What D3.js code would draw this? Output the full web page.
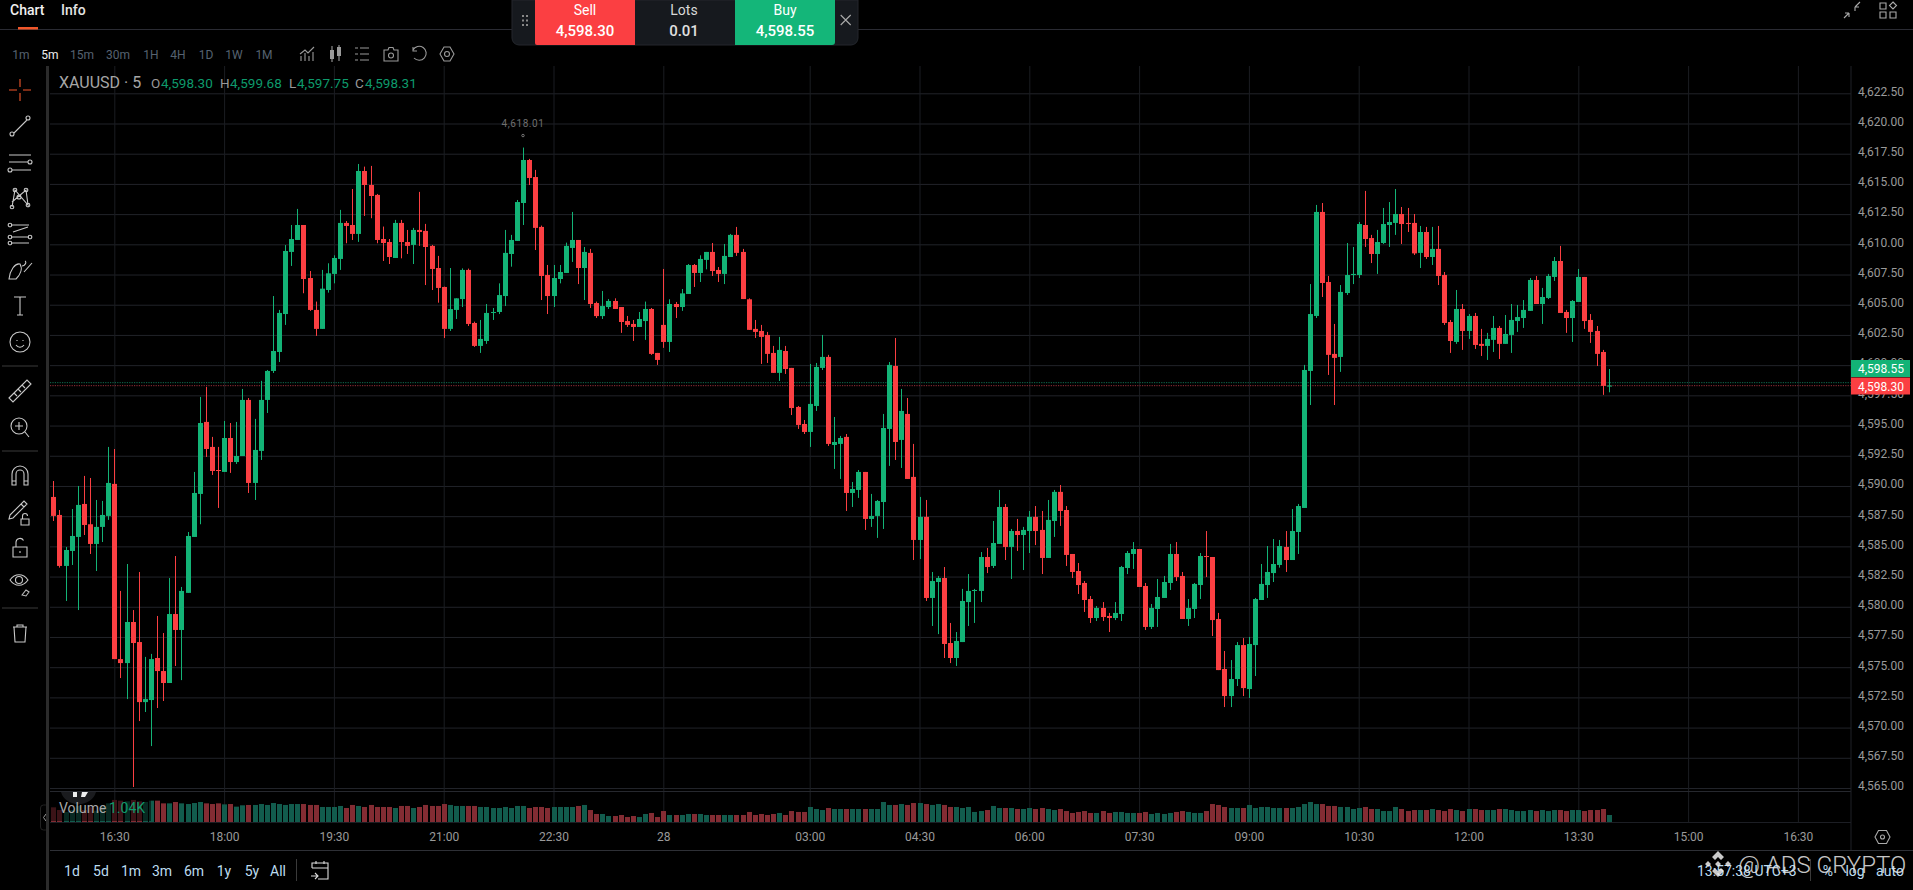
<!DOCTYPE html>
<html>
<head>
<meta charset="utf-8">
<title>XAUUSD 5m</title>
<script src="https://cdn.jsdelivr.net/npm/d3@7"></script>
<style>
    html, body { margin: 0; padding: 0; background: #000; overflow: hidden; }
    text { font-family: Roboto, "Liberation Sans", sans-serif; }
</style>
</head>
<body>
<div id="chart"></div>
<script>
// candles, oldest first (10 per line)
const opens = [
    4589.09, 4587.60, 4583.38, 4584.62, 4585.78, 4588.51, 4586.83, 4585.20, 4586.61, 4587.52,
    4590.17, 4575.67, 4575.34, 4578.74, 4577.08, 4572.11, 4572.28, 4575.76, 4574.68, 4573.69,
    4579.40, 4578.08, 4581.15, 4585.78, 4589.34, 4595.30, 4593.23, 4591.32, 4591.16, 4593.97,
    4591.98, 4592.48, 4597.12, 4590.25, 4592.90, 4597.12, 4599.52, 4601.09, 4604.23, 4609.37,
    4610.36, 4611.60, 4607.21, 4604.57, 4603.00, 4606.22, 4607.55, 4608.79, 4611.77, 4611.60,
    4610.86, 4616.07, 4614.91, 4614.09, 4610.44, 4610.19, 4608.87, 4611.77, 4610.19, 4609.95,
    4611.19, 4611.11, 4609.87, 4608.04, 4606.47, 4603.00, 4604.57, 4605.47, 4607.88, 4603.49,
    4601.59, 4602.00, 4604.32, 4604.40, 4605.72, 4609.20, 4610.28, 4613.42, 4616.98, 4615.57,
    4611.44, 4607.46, 4605.72, 4607.13, 4607.63, 4609.70, 4610.36, 4608.04, 4609.29, 4605.14,
    4604.06, 4604.81, 4605.31, 4604.81, 4603.65, 4603.41, 4603.16, 4603.65, 4604.65, 4601.01,
    4603.33, 4601.92, 4605.06, 4604.81, 4605.89, 4608.29, 4607.63, 4608.71, 4609.37, 4607.88,
    4607.55, 4608.95, 4610.78, 4609.37, 4605.45, 4603.00, 4602.83, 4602.50, 4601.01, 4599.36,
    4601.17, 4599.77, 4596.54, 4595.13, 4594.47, 4596.62, 4599.77, 4600.68, 4593.39, 4593.48,
    4594.06, 4589.42, 4589.67, 4591.16, 4587.27, 4587.52, 4588.67, 4594.72, 4599.93, 4593.81,
    4595.96, 4590.75, 4585.53, 4587.44, 4580.73, 4582.05, 4582.38, 4577.00, 4575.76, 4577.08,
    4580.39, 4581.31, 4581.31, 4584.12, 4583.38, 4585.20, 4588.26, 4584.95, 4586.27, 4585.94,
    4586.27, 4587.44, 4586.36, 4584.04, 4587.10, 4589.51, 4588.01, 4584.37, 4582.96, 4581.97,
    4580.64, 4579.07, 4579.90, 4579.24, 4579.07, 4579.40, 4583.21, 4584.37, 4584.78, 4581.72,
    4578.33, 4579.82, 4580.73, 4581.97, 4584.37, 4582.55, 4578.99, 4579.82, 4581.80, 4584.20,
    4584.12, 4578.99, 4574.85, 4572.61, 4574.02, 4576.83, 4573.19, 4576.83, 4580.56, 4581.80,
    4582.79, 4583.46, 4584.95, 4583.87, 4586.19, 4588.18, 4599.52, 4604.07, 4612.68, 4606.88,
    4600.93, 4600.68, 4605.97, 4607.46, 4607.46, 4611.60, 4610.52, 4609.20, 4610.11, 4611.60,
    4611.77, 4612.51, 4611.77, 4611.77, 4609.29, 4611.02, 4608.95, 4609.62, 4607.46, 4603.57,
    4601.92, 4604.65, 4602.83, 4604.07, 4601.76, 4601.59, 4602.09, 4603.08, 4601.76, 4602.50,
    4603.65, 4603.90, 4604.49, 4607.05, 4605.06, 4605.56, 4607.30, 4608.62, 4604.40, 4603.90,
    4605.23, 4607.30, 4603.74, 4602.83, 4601.09, 4598.30
];
const highs = [
    4590.41, 4588.01, 4584.95, 4588.09, 4590.00, 4590.83, 4590.66, 4588.84, 4588.76, 4593.23,
    4593.06, 4581.31, 4583.54, 4579.73, 4582.88, 4575.85, 4576.10, 4579.24, 4577.83, 4582.38,
    4584.20, 4581.64, 4586.19, 4591.16, 4597.37, 4598.20, 4594.06, 4593.23, 4595.38, 4595.21,
    4595.30, 4598.03, 4597.28, 4595.55, 4598.70, 4599.60, 4605.72, 4604.57, 4609.94, 4611.60,
    4612.93, 4611.60, 4607.79, 4605.26, 4607.88, 4608.43, 4609.09, 4612.85, 4611.93, 4614.58,
    4616.65, 4616.43, 4616.49, 4614.17, 4611.47, 4610.44, 4612.02, 4612.02, 4611.19, 4611.36,
    4614.34, 4611.69, 4609.95, 4609.04, 4606.50, 4608.04, 4605.53, 4608.01, 4607.99, 4603.60,
    4603.74, 4605.06, 4604.73, 4606.77, 4611.19, 4610.78, 4613.67, 4618.01, 4617.07, 4616.16,
    4611.55, 4608.29, 4608.29, 4608.29, 4610.14, 4612.68, 4610.36, 4609.78, 4609.62, 4605.26,
    4606.14, 4605.47, 4605.53, 4604.81, 4604.07, 4603.74, 4604.40, 4605.26, 4604.73, 4601.01,
    4607.96, 4605.45, 4605.23, 4606.30, 4608.37, 4608.37, 4609.09, 4609.37, 4610.11, 4608.12,
    4610.03, 4610.86, 4611.44, 4609.62, 4605.53, 4603.74, 4603.33, 4602.75, 4601.59, 4602.34,
    4601.59, 4599.77, 4596.62, 4595.46, 4600.10, 4600.18, 4602.50, 4600.85, 4595.71, 4594.14,
    4594.30, 4590.33, 4591.32, 4591.16, 4589.34, 4588.84, 4595.96, 4600.26, 4602.25, 4598.03,
    4597.28, 4593.48, 4589.09, 4588.84, 4582.88, 4582.55, 4583.29, 4578.66, 4577.91, 4581.48,
    4582.71, 4581.48, 4584.53, 4584.87, 4587.10, 4589.67, 4588.51, 4586.44, 4587.27, 4586.61,
    4587.93, 4588.34, 4587.93, 4588.84, 4589.67, 4590.08, 4588.34, 4584.37, 4583.62, 4582.13,
    4580.89, 4580.06, 4580.39, 4579.49, 4580.39, 4583.38, 4584.62, 4585.36, 4584.78, 4581.97,
    4580.23, 4582.30, 4582.55, 4585.20, 4585.36, 4582.88, 4580.64, 4581.97, 4584.45, 4586.27,
    4584.12, 4579.49, 4576.34, 4575.59, 4577.08, 4577.41, 4577.50, 4580.73, 4583.54, 4585.03,
    4585.61, 4585.53, 4586.27, 4588.09, 4588.51, 4600.02, 4606.71, 4613.26, 4613.42, 4607.38,
    4603.41, 4606.63, 4610.11, 4609.78, 4611.85, 4614.42, 4610.78, 4611.19, 4613.01, 4613.50,
    4614.58, 4613.09, 4613.01, 4612.51, 4611.52, 4611.44, 4611.44, 4611.52, 4607.71, 4603.74,
    4606.22, 4605.06, 4604.23, 4604.32, 4603.00, 4602.67, 4604.07, 4603.24, 4604.15, 4605.06,
    4604.98, 4605.39, 4607.21, 4607.38, 4606.39, 4607.55, 4608.95, 4609.87, 4604.57, 4605.39,
    4607.96, 4607.30, 4604.23, 4603.24, 4601.26, 4599.68
];
const lows = [
    4587.10, 4583.24, 4580.48, 4583.46, 4579.73, 4585.94, 4584.37, 4582.96, 4585.36, 4587.19,
    4575.67, 4574.10, 4572.36, 4565.08, 4570.54, 4571.29, 4568.47, 4571.62, 4572.20, 4573.69,
    4575.10, 4573.93, 4581.15, 4585.78, 4586.83, 4592.40, 4590.91, 4588.18, 4591.16, 4591.08,
    4591.82, 4592.48, 4589.42, 4588.84, 4592.15, 4596.04, 4599.35, 4600.26, 4603.33, 4608.21,
    4610.36, 4605.95, 4604.49, 4602.42, 4603.00, 4606.00, 4606.77, 4607.88, 4610.09, 4610.36,
    4610.20, 4612.35, 4612.16, 4610.09, 4608.62, 4608.37, 4608.87, 4608.84, 4609.20, 4608.37,
    4609.87, 4606.63, 4606.22, 4605.17, 4602.25, 4602.83, 4603.82, 4604.81, 4603.24, 4601.51,
    4601.01, 4601.76, 4603.74, 4604.23, 4604.89, 4608.15, 4610.28, 4611.60, 4614.91, 4609.53,
    4605.39, 4604.23, 4604.81, 4606.77, 4607.63, 4608.54, 4606.71, 4605.39, 4604.73, 4603.90,
    4603.82, 4604.65, 4604.65, 4602.67, 4603.16, 4602.00, 4603.16, 4602.09, 4600.85, 4600.02,
    4601.43, 4601.09, 4603.90, 4604.49, 4605.89, 4606.47, 4606.88, 4607.93, 4607.38, 4606.88,
    4606.71, 4608.95, 4609.04, 4605.47, 4602.92, 4602.25, 4600.10, 4600.18, 4599.36, 4598.69,
    4599.27, 4595.87, 4594.72, 4594.30, 4593.23, 4596.21, 4599.60, 4593.31, 4591.41, 4590.58,
    4587.93, 4588.26, 4589.01, 4586.36, 4586.61, 4585.70, 4586.44, 4591.66, 4592.15, 4591.49,
    4590.58, 4583.87, 4583.95, 4580.48, 4578.41, 4577.74, 4575.76, 4575.34, 4575.10, 4577.08,
    4578.41, 4578.66, 4580.39, 4582.79, 4583.21, 4585.20, 4583.87, 4582.30, 4584.62, 4583.04,
    4584.45, 4585.11, 4582.71, 4584.04, 4585.78, 4586.69, 4583.38, 4582.38, 4581.06, 4579.57,
    4578.66, 4578.82, 4578.82, 4577.91, 4578.90, 4578.82, 4582.71, 4583.13, 4581.64, 4578.08,
    4578.16, 4578.33, 4580.73, 4581.39, 4582.13, 4578.99, 4578.41, 4579.07, 4580.64, 4582.46,
    4577.58, 4574.76, 4571.70, 4571.70, 4573.44, 4572.61, 4572.45, 4574.27, 4580.56, 4580.73,
    4582.05, 4583.24, 4582.88, 4583.87, 4584.37, 4588.18, 4596.70, 4603.90, 4605.64, 4599.19,
    4596.70, 4599.44, 4605.81, 4606.71, 4607.21, 4609.78, 4608.45, 4607.55, 4610.03, 4609.78,
    4610.78, 4610.03, 4611.02, 4609.12, 4608.04, 4608.79, 4608.29, 4606.63, 4603.33, 4601.01,
    4601.76, 4601.26, 4602.17, 4601.34, 4600.76, 4600.43, 4601.09, 4600.51, 4601.76, 4601.01,
    4602.75, 4603.08, 4604.49, 4605.06, 4603.41, 4605.47, 4606.97, 4604.32, 4602.67, 4601.92,
    4605.23, 4603.00, 4601.84, 4599.93, 4597.54, 4597.75
];
const closes = [
    4587.52, 4583.38, 4584.70, 4585.86, 4588.43, 4586.77, 4585.20, 4586.61, 4587.60, 4590.25,
    4575.67, 4575.34, 4578.74, 4577.00, 4572.11, 4572.36, 4575.67, 4574.68, 4573.69, 4579.40,
    4578.08, 4581.31, 4585.86, 4589.42, 4595.21, 4593.06, 4591.24, 4591.24, 4593.97, 4591.98,
    4592.48, 4597.12, 4590.25, 4592.98, 4597.12, 4599.52, 4601.17, 4604.32, 4609.45, 4610.44,
    4611.60, 4607.13, 4604.57, 4603.00, 4606.33, 4607.60, 4608.87, 4611.77, 4611.52, 4610.86,
    4616.07, 4614.91, 4614.00, 4610.36, 4610.11, 4608.95, 4611.77, 4610.19, 4609.87, 4611.19,
    4611.02, 4609.78, 4607.96, 4606.39, 4603.00, 4604.64, 4605.53, 4607.88, 4603.41, 4601.59,
    4602.17, 4604.32, 4604.40, 4605.80, 4609.29, 4610.36, 4613.50, 4616.98, 4615.49, 4611.36,
    4607.38, 4605.72, 4607.21, 4607.71, 4609.87, 4610.36, 4608.04, 4609.37, 4605.06, 4604.06,
    4604.89, 4605.31, 4604.65, 4603.57, 4603.33, 4603.16, 4603.82, 4604.65, 4600.93, 4600.43,
    4601.92, 4605.06, 4604.81, 4605.94, 4608.29, 4607.63, 4608.79, 4609.37, 4607.79, 4607.55,
    4609.04, 4610.78, 4609.29, 4605.47, 4602.92, 4602.75, 4602.34, 4600.93, 4599.36, 4601.26,
    4599.68, 4596.45, 4595.05, 4594.47, 4596.79, 4599.85, 4600.68, 4593.48, 4593.64, 4593.97,
    4589.42, 4589.75, 4591.16, 4587.27, 4587.52, 4588.76, 4594.80, 4600.02, 4593.64, 4596.21,
    4590.58, 4585.53, 4587.44, 4580.73, 4582.13, 4582.38, 4576.92, 4575.76, 4577.17, 4580.48,
    4581.31, 4581.39, 4584.12, 4583.29, 4585.28, 4588.26, 4584.95, 4586.27, 4585.94, 4586.36,
    4587.44, 4586.27, 4584.04, 4587.19, 4589.51, 4587.93, 4584.29, 4582.88, 4581.80, 4580.56,
    4579.07, 4579.90, 4579.15, 4579.07, 4579.49, 4583.29, 4584.45, 4584.78, 4581.64, 4578.33,
    4579.90, 4580.81, 4582.05, 4584.37, 4582.46, 4578.99, 4579.90, 4581.89, 4584.20, 4584.12,
    4578.90, 4574.76, 4572.61, 4574.02, 4576.83, 4573.27, 4576.92, 4580.64, 4581.89, 4582.88,
    4583.54, 4585.03, 4583.87, 4586.27, 4588.34, 4599.60, 4604.23, 4612.68, 4606.80, 4600.85,
    4600.60, 4606.06, 4607.46, 4607.55, 4611.68, 4610.44, 4609.20, 4610.19, 4611.68, 4611.85,
    4612.51, 4611.68, 4611.68, 4609.25, 4611.02, 4608.95, 4609.62, 4607.38, 4603.49, 4602.00,
    4604.65, 4602.83, 4604.07, 4601.67, 4601.59, 4602.17, 4603.08, 4601.76, 4602.58, 4603.74,
    4603.98, 4604.57, 4607.05, 4605.06, 4605.64, 4607.38, 4608.62, 4604.32, 4603.90, 4605.31,
    4607.30, 4603.65, 4602.75, 4600.93, 4598.28, 4598.31
];
// volume per candle, in thousands
const volumes = [
    2.18, 1.78, 1.49, 1.78, 2.38, 1.78, 2.18, 1.68, 2.28, 2.77,
    3.27, 3.17, 3.07, 3.27, 3.07, 2.97, 3.17, 3.17, 2.77, 2.77,
    2.97, 2.77, 2.67, 2.82, 2.97, 2.77, 2.67, 2.77, 2.62, 2.67,
    2.28, 2.48, 2.53, 2.53, 2.67, 2.53, 2.82, 2.67, 2.53, 2.67,
    2.67, 2.67, 2.53, 2.53, 2.23, 2.23, 2.23, 2.38, 2.08, 2.53,
    2.38, 2.23, 2.53, 2.23, 2.23, 2.23, 2.08, 2.38, 2.38, 2.08,
    2.23, 2.53, 2.38, 2.38, 2.67, 2.53, 2.38, 2.38, 2.38, 2.38,
    2.23, 2.23, 2.08, 2.08, 2.23, 2.08, 2.38, 2.38, 2.08, 2.23,
    2.23, 2.08, 2.23, 2.23, 2.23, 2.23, 2.38, 2.53, 1.78, 1.19,
    1.19, 0.89, 0.89, 1.04, 0.74, 0.89, 0.74, 1.19, 1.34, 0.74,
    1.63, 1.04, 1.04, 1.04, 1.19, 1.19, 1.19, 1.04, 1.04, 1.04,
    1.04, 1.04, 1.04, 1.04, 1.49, 1.04, 1.19, 1.04, 1.19, 1.34,
    1.04, 1.63, 1.49, 1.49, 2.23, 1.93, 1.78, 2.08, 1.93, 1.93,
    1.93, 1.93, 1.93, 1.93, 1.93, 1.93, 2.97, 2.53, 2.53, 2.67,
    2.53, 2.82, 2.82, 2.67, 2.53, 2.67, 2.53, 2.23, 2.23, 2.08,
    2.23, 1.49, 1.63, 1.78, 2.38, 2.08, 2.08, 2.08, 1.93, 1.93,
    2.08, 1.93, 2.08, 1.93, 1.78, 1.93, 1.63, 1.34, 1.49, 1.63,
    1.34, 1.34, 1.63, 1.34, 1.49, 1.49, 1.34, 1.34, 1.34, 1.49,
    1.19, 1.34, 1.19, 1.34, 1.49, 1.63, 1.49, 1.34, 1.34, 1.63,
    2.67, 2.53, 2.23, 2.08, 2.08, 2.08, 2.53, 2.08, 2.23, 2.23,
    2.08, 2.08, 2.08, 2.08, 2.23, 2.67, 2.97, 2.67, 2.67, 2.38,
    2.38, 2.23, 2.23, 1.93, 2.08, 2.23, 1.93, 1.93, 1.63, 1.63,
    2.23, 1.93, 1.63, 1.78, 1.78, 1.78, 1.93, 1.78, 1.63, 1.93,
    1.78, 1.63, 1.93, 1.93, 1.78, 1.78, 1.78, 1.93, 1.93, 1.78,
    1.63, 1.63, 1.78, 1.63, 1.78, 1.63, 1.78, 1.78, 1.63, 1.78,
    1.78, 1.63, 1.78, 1.78, 1.93, 1.04
];

const priceTicks = [4565, 4567.5, 4570, 4572.5, 4575, 4577.5, 4580, 4582.5, 4585, 4587.5, 4590, 4592.5,
    4595, 4597.5, 4600, 4602.5, 4605, 4607.5, 4610, 4612.5, 4615, 4617.5, 4620, 4622.5];
const timeIdx = [10, 28, 46, 64, 82, 100, 124, 142, 160, 178, 196, 214, 232, 250, 268, 286];
const timeLabels = ["16:30", "18:00", "19:30", "21:00", "22:30", "28", "03:00", "04:30", "06:00", "07:30", "09:00", "10:30", "12:00", "13:30", "15:00", "16:30"];
const bid = 4598.30, ask = 4598.55, topHigh = 4618.01;
const intervals = ["1m", "5m", "15m", "30m", "1H", "4H", "1D", "1W", "1M"];
const intervalX = [21, 50, 82, 118, 151, 178, 206, 234, 264];
const ranges = ["1d", "5d", "1m", "3m", "6m", "1y", "5y", "All"];
const rangeX = [72, 101, 131, 162, 194, 224, 252, 278];
const legend = [["O", "4,598.30", 151, 161], ["H", "4,599.68", 220, 230], ["L", "4,597.75", 289, 297], ["C", "4,598.31", 355, 365]];

const GREEN = "#13b376", RED = "#fb3f42", GRID = "#212329";
const width = 1913, height = 890;
const chartLeft = 50, axisX = 1851, chartTop = 66, volBase = 822, paneEnd = 791;

const svg = d3.select("#chart").append("svg")
    .attr("width", width).attr("height", height)
    .style("display", "block").style("background", "#000");

const x = d3.scaleLinear().domain([10, 250]).range([114.3, 1578.3]);
const y = d3.scaleLinear().domain([4565, 4622.5]).range([788, 93.3]);
const yVol = d3.scaleLinear().domain([0, 2.97]).range([volBase, 802]);

// grid + axes
const yAxis = d3.axisRight(y).tickValues(priceTicks).tickFormat(d3.format(",.2f")).tickSize(0).tickPadding(0);
const yGrid = d3.axisLeft(y).tickValues(priceTicks).tickFormat("").tickSize(axisX - chartLeft);
const xGrid = d3.axisBottom(x).tickValues(timeIdx).tickFormat("").tickSize(volBase - chartTop);
const xAxis = d3.axisBottom(x).tickValues(timeIdx).tickFormat((d, i) => timeLabels[i]).tickSize(0).tickPadding(0);

const gy = svg.append("g").attr("transform", `translate(${axisX},0)`).call(yGrid);
gy.select(".domain").remove();
gy.selectAll("line").attr("stroke", GRID).attr("stroke-width", 1);

const gx = svg.append("g").attr("transform", `translate(0,${chartTop})`).call(xGrid);
gx.select(".domain").remove();
gx.selectAll("line").attr("stroke", "#1b1d22").attr("stroke-width", 1);

// horizontal frame lines
[[791, "#26282e"], [volBase, "#1c1e24"], [850, "#2e3036"]].forEach(d => {
    svg.append("line").attr("x1", chartLeft).attr("x2", d[0] === 850 ? width : axisX)
        .attr("y1", d[0] + 0.5).attr("y2", d[0] + 0.5).attr("stroke", d[1]);
});
svg.append("line").attr("x1", axisX).attr("x2", axisX).attr("y1", chartTop).attr("y2", 850).attr("stroke", "#1f2127");

const data = opens.map((o, i) => ({i, o, h: highs[i], l: lows[i], c: closes[i], v: volumes[i], up: closes[i] >= o}));

// volume
svg.append("g").selectAll("rect").data(data).join("rect")
    .attr("x", d => Math.round(x(d.i)) - 2).attr("width", 5)
    .attr("y", d => yVol(d.v)).attr("height", d => volBase - yVol(d.v))
    .attr("fill", d => d.up ? "#125c4d" : "#832c33");

// bid / ask lines
[[ask, "#0f6e50"], [bid, "#97303a"]].forEach(d => {
    svg.append("line").attr("x1", chartLeft).attr("x2", axisX)
        .attr("y1", y(d[0])).attr("y2", y(d[0]))
        .attr("stroke", d[1]).attr("stroke-dasharray", "1.2 1.2");
});

// candles
const candles = svg.append("g");
candles.selectAll("line").data(data).join("line")
    .attr("x1", d => Math.round(x(d.i)) + 0.5).attr("x2", d => Math.round(x(d.i)) + 0.5)
    .attr("y1", d => y(d.h)).attr("y2", d => y(d.l))
    .attr("stroke", d => d.up ? GREEN : RED);
candles.selectAll("rect").data(data).join("rect")
    .attr("x", d => Math.round(x(d.i)) - 2).attr("width", 5)
    .attr("y", d => y(Math.max(d.o, d.c)))
    .attr("height", d => Math.max(1, Math.abs(y(d.o) - y(d.c))))
    .attr("fill", d => d.up ? GREEN : RED);

// high marker
const topIdx = highs.indexOf(topHigh);
svg.append("text").attr("x", x(topIdx)).attr("y", y(topHigh) - 21).attr("text-anchor", "middle")
    .attr("fill", "#6f6f6f").style("font-size", "10px").style("letter-spacing", "0.6px").text("4,618.01");
svg.append("path").attr("transform", `translate(${x(topIdx)},${y(topHigh) - 12})`)
    .attr("d", d3.symbol(d3.symbolCircle, 5)).attr("fill", "none").attr("stroke", "#777");

// price axis labels
const ay = svg.append("g").attr("transform", "translate(1858,-2)").call(yAxis);
ay.select(".domain").remove();
ay.selectAll("text").attr("fill", "#9a9a9a").style("font-size", "12px");
svg.append("rect").attr("x", axisX + 1).attr("y", paneEnd).attr("width", 62).attr("height", volBase - paneEnd).attr("fill", "#000");

// time labels
const ax = svg.append("g").attr("transform", "translate(0,832)").call(xAxis);
ax.select(".domain").remove();
ax.selectAll("text").attr("fill", "#9a9a9a").style("font-size", "12px");

// price tags
[[ask, GREEN, 360, 17], [bid, RED, 377.5, 17]].forEach(d => {
    svg.append("rect").attr("x", axisX).attr("y", d[2]).attr("width", 59).attr("height", d[3]).attr("fill", d[1]);
    svg.append("text").attr("x", 1858).attr("y", d[2] + 13).attr("fill", "#fff").style("font-size", "12px").text(d3.format(",.2f")(d[0]));
});

// legend
svg.append("text").attr("x", 59).attr("y", 88).attr("fill", "#a6a6a6").style("font-size", "16px").text("XAUUSD · 5");
legend.forEach(d => {
    svg.append("text").attr("x", d[2]).attr("y", 87.5).attr("fill", "#999").style("font-size", "13.5px").text(d[0]);
    svg.append("text").attr("x", d[3]).attr("y", 87.5).attr("fill", "#0e9a6c").style("font-size", "13.5px").text(d[1]);
});

// volume legend box
svg.append("rect").attr("x", 50).attr("y", 800).attr("width", 101).attr("height", 21).attr("fill", "#000").attr("opacity", 0.55);
svg.append("path").attr("d", "M61 792H96A18 16 0 0 1 61 792Z").attr("fill", "#1a1b1e");
svg.append("path").attr("d", "M73 792H77V797H73ZM82 792H88L85 797H81Z").attr("fill", "#eee");
svg.append("text").attr("x", 59).attr("y", 813).attr("fill", "#a8a8a8").style("font-size", "14px").text("Volume");
svg.append("text").attr("x", 109).attr("y", 813).attr("fill", "#0e9a6c").style("font-size", "14px").text("1.04K");
svg.append("rect").attr("x", 40.5).attr("y", 805).attr("width", 8).attr("height", 25).attr("rx", 3).attr("fill", "#000").attr("stroke", "#222");
svg.append("path").attr("d", "M46 814L43.5 817.5L46 821").attr("fill", "none").attr("stroke", "#999");

// left sidebar strip
svg.append("rect").attr("x", 46).attr("y", chartTop).attr("width", 3).attr("height", height - chartTop).attr("fill", "#2b2b2b");

// top bar
svg.append("line").attr("x1", 0).attr("x2", width).attr("y1", 29.5).attr("y2", 29.5).attr("stroke", "#2a2b33");
svg.append("text").attr("x", 10).attr("y", 15).attr("fill", "#f0f0f0").style("font-size", "14px").style("font-weight", 500).text("Chart");
svg.append("text").attr("x", 61).attr("y", 15).attr("fill", "#e4e4e4").style("font-size", "14px").style("font-weight", 500).text("Info");
svg.append("rect").attr("x", 18).attr("y", 27).attr("width", 20).attr("height", 2.5).attr("fill", "#f1572a");

// order panel
svg.append("path").attr("d", "M512 0V38A7 7 0 0 0 519 45H851A7 7 0 0 0 858 38V0Z").attr("fill", "#16191e").attr("stroke", "#24272d");
svg.append("path").attr("d", "M535 0H635V45H537A2 2 0 0 1 535 43Z").attr("fill", RED);
svg.append("path").attr("d", "M735 0H835V42A3 3 0 0 1 832 45H735Z").attr("fill", "#14b679");
[[585, "Sell", "4,598.30"], [684, "Lots", "0.01"], [785, "Buy", "4,598.55"]].forEach(d => {
    svg.append("text").attr("x", d[0]).attr("y", 15).attr("text-anchor", "middle").attr("fill", d[1] === "Lots" ? "#d8d8d8" : "#fff").style("font-size", "14px").text(d[1]);
    svg.append("text").attr("x", d[0]).attr("y", 36).attr("text-anchor", "middle").attr("fill", d[1] === "Lots" ? "#e0e0e0" : "#fff").style("font-size", "15px").style("font-weight", 500).text(d[2]);
});
const icon = (dx, dy, d, col) => svg.append("path").attr("transform", `translate(${dx},${dy})`).attr("d", d)
    .attr("fill", "none").attr("stroke", col || "#c8c8c8").attr("stroke-width", 1.1);
icon(845.7, 20, "M-5-5L5 5M5-5L-5 5", "#aaa");
[0, 1].forEach(c => [0, 1, 2].forEach(r => svg.append("rect").attr("x", 522 + c * 4).attr("y", 15 + r * 4.5).attr("width", 2).attr("height", 2).attr("fill", "#888")));

// interval row
intervals.forEach((t, i) => {
    svg.append("text").attr("x", intervalX[i]).attr("y", 59).attr("text-anchor", "middle")
        .attr("fill", t === "5m" ? "#eee" : "#566270").style("font-size", "12px").text(t);
});
const circ = (cx, cy, r) => `M${cx - r} ${cy}a${r} ${r} 0 1 0 ${2 * r} 0a${r} ${r} 0 1 0 ${-2 * r} 0`;
icon(307, 54, "M-6 7V2M-2 7V-1M2 7V2M6 7V-2M-7 0L-2-4L1-1L7-7", "#9a9a9a");
icon(335, 54, "M-3-8V8M4-9V7", "#9a9a9a");
svg.append("rect").attr("x", 330).attr("y", 50).attr("width", 4).attr("height", 9).attr("fill", "#9a9a9a");
svg.append("rect").attr("x", 337).attr("y", 47).attr("width", 4).attr("height", 9).attr("fill", "#9a9a9a");
icon(362, 54, "M-2-6H7M-7-6H-4M-2 0H7M-7 0H-4M-2 6H7M-7 6H-4", "#9a9a9a");
icon(391, 54, "M-7-4H-3L-2-6.5H2L3-4H7V7H-7Z" + circ(0, 1.5, 2.5), "#9a9a9a");
icon(419, 54, "M-6-4A7 7 0 1 1-5 4M-6-7V-3H-2", "#9a9a9a");
icon(447, 54, "M-3-7H3L7 0L3 7H-3L-7 0Z" + circ(0, 0, 2.5), "#9a9a9a");

// drawing tools
icon(20, 90, "M0-11V-3M0 3V11M-11 0H-3M3 0H11", "#f1572a");
icon(20, 126, "M-6 7L7-6" + circ(-8, 8, 2) + circ(8, -8, 2));
icon(20, 162, "M-11-7H11M-11 0H8M-8 8H11" + circ(10, 0, 2) + circ(-10, 8, 2));
icon(20, 198, "M-8 9L-5-8L8 7L6-8L-8 4" + circ(-8, 9, 1.8) + circ(-5, -8, 1.8) + circ(8, 7, 1.8) + circ(6, -8, 1.8) + circ(-1, -1, 2));
icon(20, 234, "M-9-9H9M-9 3H9M-9 9H9M-7-2L8-7" + circ(-10, -9, 1.8) + circ(-10, 3, 1.8) + circ(10, 3, 1.8) + circ(-10, 9, 1.8));
icon(20, 270, "M-11 9C-10 0-5-7 0-6C3-1 0 5-4 9ZM2-4C5-4 7-8 5-9M4 2L12-7");
icon(20, 306, "M-6-9H6M0-9V9M-3 9H3");
icon(20, 342, "M-3-2V-1M3-2V-1M-4 3C-2 6 2 6 4 3" + circ(0, 0, 10));
[366, 451, 608].forEach(s => svg.append("line").attr("x1", 2).attr("x2", 38).attr("y1", s).attr("y2", s).attr("stroke", "#3a3a3a"));
icon(20, 391, "M-11 7L7-11L11-7L-7 11ZM-6 2L-3 5M-2-2L1 1M2-6L5-3");
icon(19, 426, "M6 6L10 11M-4 0H4M0-4V4" + circ(0, 0, 8));
icon(20, 476, "M-8 9V-2A8 8 0 0 1 8-2V9H4V-2A4 4 0 0 0-4-2V9ZM-8 5H-4M4 5H8");
icon(18, 510, "M-8 5L6-9L9-6L-5 8L-9 9ZM3-6L6-3");
icon(25, 519, "M-4 0H4V6H-4ZM-2.5 0V-3A2.5 2.5 0 0 1 2.5-3");
icon(20, 548, "M-7-1H7V9H-7ZM-4-1V-6A4 4 0 0 1 3.5-7.5M0 3V5");
icon(19, 580, "M-9 0C-4-7 4-7 9 0C4 7-4 7-9 0Z" + circ(0, 0, 3.5));
icon(26, 592, "M-4 3L0-2L3 0L0 4Z", "#bbb");
icon(20, 633, "M-7-6H7M-3-6V-8H3V-6M-6-6L-5 9H5L6-6");

// bottom bar
ranges.forEach((t, i) => {
    svg.append("text").attr("x", rangeX[i]).attr("y", 876).attr("text-anchor", "middle").attr("fill", "#bcdcf0").style("font-size", "14px").text(t);
});
svg.append("line").attr("x1", 296.5).attr("x2", 296.5).attr("y1", 859).attr("y2", 881).attr("stroke", "#3a3a3a");
icon(320, 870, "M-8-2H8V9H-2M-8-2V-7H8V-2M-4-9V-6M4-9V-6M-9 6H-2M-5 3L-2 6L-5 9", "#ddd");

svg.append("text").attr("x", 1697).attr("y", 876).attr("fill", "#bcdcf0").style("font-size", "14px").text("13:57:38 UTC+3");
svg.append("line").attr("x1", 1810.5).attr("x2", 1810.5).attr("y1", 859).attr("y2", 881).attr("stroke", "#3a3a3a");
[[1828, "%"], [1855, "log"], [1890, "auto"]].forEach(d => {
    svg.append("text").attr("x", d[0]).attr("y", 876).attr("text-anchor", "middle").attr("fill", "#bcdcf0").style("font-size", "14px").text(d[1]);
});
icon(1882.5, 837, "M-4-6.5H4L7.5 0L4 6.5H-4L-7.5 0Z" + circ(0, 0, 2), "#aaa");
icon(1852, 10, "M3-3L8-8M3-3H7M3-3V1M-3 3L-8 8M-3 3H-7M-3 3V7", "#aaa");
icon(1888, 10, "M-8-7H-2V-1H-8ZM-8 2H-2V8H-8ZM2 2H8V8H2ZM5-8L8.5-4.5L5-1L1.5-4.5Z", "#aaa");

// watermark
const mark = svg.append("g").attr("opacity", 0.85);
mark.append("path").attr("d", "M1718 851L1724 857L1721 860L1718 857L1715 860L1712 857ZM1708 861L1711 864L1708 867L1705 864ZM1728 861L1731 864L1728 867L1725 864ZM1718 861L1721 864L1718 867L1715 864ZM1718 871L1721 868L1724 871L1718 877L1712 871L1715 868Z").attr("fill", "#eee");
mark.append("text").attr("x", 1738).attr("y", 873).attr("fill", "#e8e8e8").style("font-size", "24px").style("font-weight", 300).text("@ ADS CRYPTO");
</script>
</body>
</html>
